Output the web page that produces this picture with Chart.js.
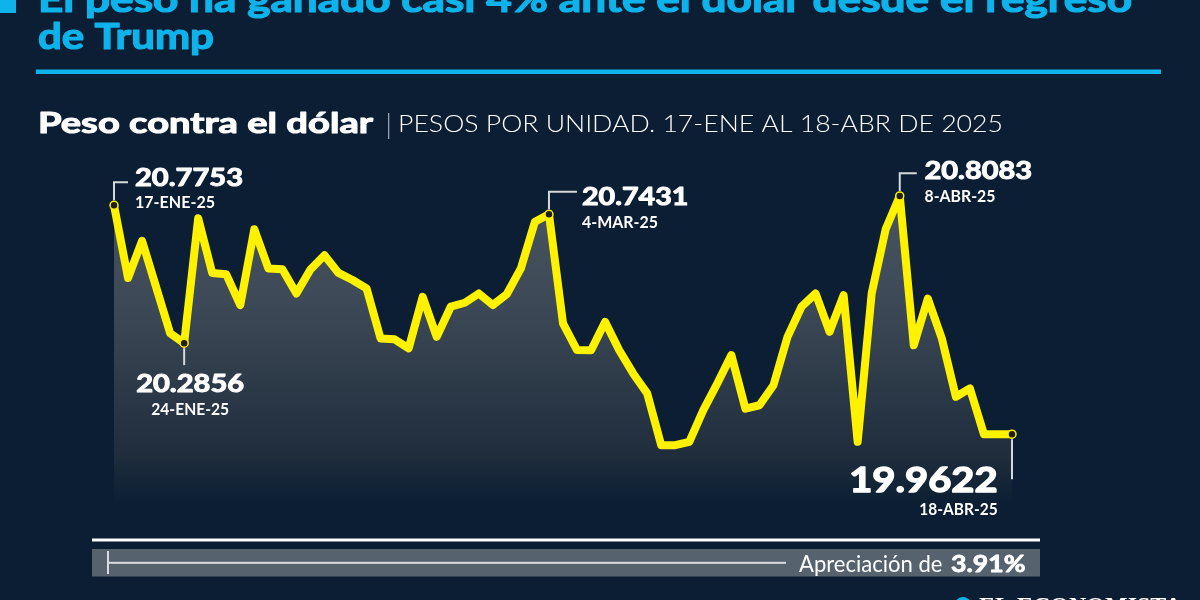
<!DOCTYPE html>
<html>
<head>
<meta charset="utf-8">
<script src="https://cdn.jsdelivr.net/npm/chart.js@4.4.1/dist/chart.umd.min.js"></script>
<style>
  html, body { margin: 0; padding: 0; background: #0b1e33; }
  canvas { display: block; }
</style>
</head>
<body>
<canvas id="grafica" width="1200" height="600"></canvas>
<script>
// dias habiles del 17-ene al 18-abr de 2025
const fechas = [
  '17-ENE-25', '20-ENE-25', '21-ENE-25', '22-ENE-25', '23-ENE-25', '24-ENE-25', '27-ENE-25', '28-ENE-25', '29-ENE-25', '30-ENE-25', '31-ENE-25',
  '4-FEB-25', '5-FEB-25', '6-FEB-25', '7-FEB-25', '10-FEB-25', '11-FEB-25', '12-FEB-25', '13-FEB-25', '14-FEB-25',
  '17-FEB-25', '18-FEB-25', '19-FEB-25', '20-FEB-25', '21-FEB-25', '24-FEB-25', '25-FEB-25', '26-FEB-25', '27-FEB-25', '28-FEB-25',
  '3-MAR-25', '4-MAR-25', '5-MAR-25', '6-MAR-25', '7-MAR-25', '10-MAR-25', '11-MAR-25', '12-MAR-25', '13-MAR-25', '14-MAR-25',
  '17-MAR-25', '18-MAR-25', '19-MAR-25', '20-MAR-25', '21-MAR-25', '24-MAR-25', '25-MAR-25', '26-MAR-25', '27-MAR-25', '28-MAR-25', '31-MAR-25',
  '1-ABR-25', '2-ABR-25', '3-ABR-25', '4-ABR-25', '7-ABR-25', '8-ABR-25', '9-ABR-25', '10-ABR-25', '11-ABR-25',
  '14-ABR-25', '15-ABR-25', '16-ABR-25', '17-ABR-25', '18-ABR-25'
];

// pesos por dolar
const valores = [
  20.7753, 20.517, 20.649, 20.485, 20.321, 20.2856, 20.729, 20.535, 20.530, 20.421, 20.690,
  20.551, 20.548, 20.462, 20.547, 20.598, 20.535, 20.510, 20.480, 20.302,
  20.299, 20.267, 20.450, 20.308, 20.415, 20.429, 20.462, 20.421, 20.460, 20.551,
  20.717, 20.7431, 20.356, 20.261, 20.260, 20.361, 20.261, 20.178, 20.107, 19.923,
  19.923, 19.935, 20.048, 20.143, 20.243, 20.053, 20.065, 20.136, 20.308, 20.415, 20.462,
  20.326, 20.456, 19.935, 20.462, 20.691, 20.8083, 20.278, 20.444, 20.302,
  20.095, 20.125, 19.962, 19.962, 19.9622
];

// puntos con etiqueta
const destacados = [0, 5, 31, 56, 64];

const titulo = ['El peso ha ganado casi 4% ante el dólar desde el regreso', 'de Trump'];
const subtitulo = 'Peso contra el dólar';
const unidades = 'PESOS POR UNIDAD. 17-ENE AL 18-ABR DE 2025';
const apreciacion = ((valores[0] - valores[valores.length - 1]) / valores[0] * 100).toFixed(2);

const AMARILLO = '#fff200';
const CIAN = '#0db3ea';
const GUIA = '#d6d9dc';

// texto ajustado a un ancho dado (estira o comprime en horizontal)
function texto(ctx, str, x, y, font, ancho, align, color, grosor) {
  ctx.save();
  ctx.font = font;
  ctx.fillStyle = color || '#ffffff';
  ctx.textBaseline = 'alphabetic';
  ctx.textAlign = 'left';
  const w = ctx.measureText(str).width;
  let x0 = x;
  if (align === 'right') x0 = x - ancho;
  if (align === 'center') x0 = x - ancho / 2;
  ctx.translate(x0, y);
  ctx.scale(ancho / w, 1);
  ctx.fillText(str, 0, 0);
  if (grosor) {
    // engrosar un poco el trazo, la fuente original es mas pesada
    ctx.strokeStyle = color || '#ffffff';
    ctx.lineWidth = grosor;
    ctx.lineJoin = 'round';
    ctx.strokeText(str, 0, 0);
  }
  ctx.restore();
}

// como se coloca cada etiqueta respecto a su punto
const colocacion = {
  0:  { guia: -23, codo: 14, num: [21, -19.3, 108, 'left'], fecha: [21, 2.3, 80, 'left'], grande: false },
  5:  { guia: 22, codo: 0, num: [6, 49.3, 108, 'center'], fecha: [6, 72, 78, 'center'], grande: false },
  31: { guia: -22.5, codo: 28, num: [33, -9, 106.5, 'left'], fecha: [33, 13.3, 76, 'left'], grande: false },
  56: { guia: -22.7, codo: 17, num: [24.7, -16.7, 107.7, 'left'], fecha: [24.7, 5.7, 71, 'left'], grande: false },
  64: { guia: 45, codo: 0, num: [-14.3, 58.3, 148.5, 'right'], fecha: [-14.3, 80.7, 78.4, 'right'], grande: true }
};

const decoracion = {
  id: 'decoracion',
  beforeDraw(chart) {
    const ctx = chart.ctx;
    ctx.save();
    ctx.fillStyle = '#0b1e33';
    ctx.fillRect(0, 0, chart.width, chart.height);

    // encabezado
    ctx.fillStyle = CIAN;
    ctx.fillRect(0, 0, 16, 13);
    texto(ctx, titulo[0], 38, 12.3, 'bold 37px Lato', 1094, 'left', CIAN, 1.2);
    texto(ctx, titulo[1], 38, 49.3, 'bold 37px Lato', 176, 'left', CIAN, 1.2);
    ctx.fillStyle = CIAN;
    ctx.fillRect(36, 69.5, 1125, 4.5);

    texto(ctx, subtitulo, 38, 133, 'bold 28px Lato', 335, 'left', '#ffffff', 1);
    ctx.fillStyle = '#9aa3ad';
    ctx.fillRect(388, 113, 1.3, 26);
    texto(ctx, unidades, 398, 132, '300 23px Lato', 605, 'left', '#ffffff');

    // barra inferior
    ctx.fillStyle = '#ffffff';
    ctx.fillRect(92, 538.5, 948, 3);
    ctx.fillStyle = '#56626e';
    ctx.fillRect(92, 549, 948, 27.5);
    ctx.fillStyle = '#d9dcdf';
    ctx.fillRect(107, 551, 2, 23);
    ctx.fillRect(108, 561.8, 678, 2);
    texto(ctx, 'Apreciación de', 799, 571.5, '23px Lato', 143.5, 'left', '#ffffff');
    texto(ctx, apreciacion + '%', 951, 571.5, 'bold 23px Lato', 74.5, 'left', '#ffffff', 0.8);

    // logotipo (cortado abajo)
    ctx.fillStyle = CIAN;
    ctx.beginPath();
    ctx.arc(963, 605, 8, 0, Math.PI * 2);
    ctx.fill();
    ctx.save();
    ctx.font = 'bold 24px "Liberation Serif"';
    ctx.fillStyle = '#ffffff';
    ctx.textBaseline = 'top';
    ctx.fillText('EL ECONOMISTA', 979, 595);
    ctx.restore();
    ctx.restore();
  },
  afterDatasetsDraw(chart) {
    const ctx = chart.ctx;
    const puntos = chart.getDatasetMeta(0).data;
    ctx.save();
    destacados.forEach(i => {
      const p = puntos[i];
      const c = colocacion[i];
      ctx.strokeStyle = GUIA;
      ctx.lineWidth = 2;
      ctx.lineCap = 'butt';
      ctx.lineJoin = 'miter';
      ctx.beginPath();
      const sentido = c.guia < 0 ? -1 : 1;
      ctx.moveTo(p.x, p.y + sentido * 5);
      ctx.lineTo(p.x, p.y + c.guia);
      if (c.codo) ctx.lineTo(p.x + c.codo, p.y + c.guia);
      ctx.stroke();

      const fNum = c.grande ? 'bold 35px Lato' : 'bold 24px Lato';
      texto(ctx, valores[i].toFixed(4), p.x + c.num[0], p.y + c.num[1], fNum, c.num[2], c.num[3], '#ffffff', c.grande ? 1.4 : 1);
      texto(ctx, fechas[i], p.x + c.fecha[0], p.y + c.fecha[1], 'bold 17px Lato', c.fecha[2], c.fecha[3], '#ffffff');
    });
    ctx.restore();
  }
};

const ctx = document.getElementById('grafica').getContext('2d');
new Chart(ctx, {
  type: 'line',
  data: {
    labels: fechas,
    datasets: [{
      data: valores,
      borderColor: AMARILLO,
      borderWidth: 8,
      borderJoinStyle: 'round',
      borderCapStyle: 'round',
      tension: 0,
      fill: 'start',
      backgroundColor: (c) => {
        const area = c.chart.chartArea;
        if (!area) return 'rgba(0,0,0,0)';
        const g = c.chart.ctx.createLinearGradient(0, 195, 0, 505);
        g.addColorStop(0, '#48545f');
        g.addColorStop(0.35, '#3d4956');
        g.addColorStop(0.85, '#1e2c3c');
        g.addColorStop(1, '#0b1e33');
        return g;
      },
      pointRadius: valores.map((v, i) => destacados.includes(i) ? 4 : 0),
      pointBackgroundColor: '#1f1f1f',
      pointBorderColor: AMARILLO,
      pointBorderWidth: 1.5,
      clip: false
    }]
  },
  options: {
    responsive: false,
    animation: false,
    events: [],
    layout: { padding: { left: 114, right: 188, top: 142, bottom: 92 } },
    plugins: {
      legend: { display: false },
      tooltip: { enabled: false }
    },
    scales: {
      x: { display: false },
      y: { display: false, min: 19.7, max: 21.0 }
    }
  },
  plugins: [decoracion]
});
</script>
</body>
</html>
